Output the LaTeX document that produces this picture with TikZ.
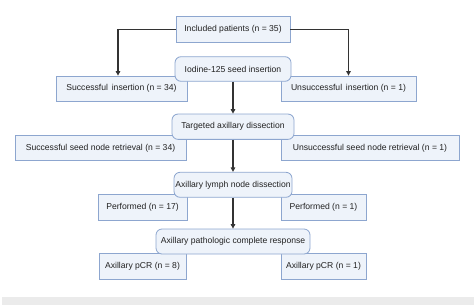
\documentclass[tikz,border=0pt]{standalone}
\usepackage{fontspec}
\setmainfont{Liberation Sans}
\usetikzlibrary{arrows.meta}
\definecolor{boxfill}{HTML}{EEF3FA}
\definecolor{boxline}{HTML}{8DA6CF}
\definecolor{txt}{HTML}{222222}
\definecolor{arr}{HTML}{333333}
\definecolor{strip}{HTML}{EBEBEB}
\tikzset{
  box/.style={draw=boxline, fill=boxfill, line width=0.8pt, inner sep=0pt,
    text=txt, font=\fontsize{8.6}{9}\selectfont, minimum height=25pt},
  rbox/.style={box, rounded corners=6pt},
  arrowline/.style={draw=arr, line width=1.1pt, -{Triangle[length=4.5pt,width=4.5pt]}}
}
\begin{document}
\begin{tikzpicture}[x=1pt,y=-1pt]
\useasboundingbox (0,0) rectangle (474,305);
\fill[strip] (2,297) rectangle (474,305);
% rectangular boxes
\node[box, minimum width=114pt, minimum height=25.5pt] (inc) at (233,29.5) {Included patients (n = 35)};
\node[box, minimum width=131pt] (sins) at (121.5,88.5) {Successful\, insertion (n = 34)};
\node[box, minimum width=135pt] (uins) at (348.5,88.5) {Unsuccessful\, insertion (n = 1)};
\node[box, minimum width=171pt, minimum height=25.7pt] (sret) at (100.5,147.8) {Successful seed node retrieval (n = 34)};
\node[box, minimum width=178pt, minimum height=25.7pt] (uret) at (370,147.8) {Unsuccessful seed node retrieval (n = 1)};
\node[box, minimum width=89pt, minimum height=26pt] (p17) at (142.5,207) {Performed (n = 17)};
\node[box, minimum width=85pt, minimum height=26pt] (p1) at (323.5,207) {Performed (n = 1)};
\node[box, minimum width=87pt, minimum height=26pt] (c8) at (142.5,266) {Axillary pCR (n = 8)};
\node[box, minimum width=85pt, minimum height=26pt] (c1) at (323.5,266) {Axillary pCR (n = 1)};
% rounded boxes
\node[rbox, minimum width=116pt, minimum height=24.6pt] (iod) at (233,69) {Iodine-125 seed insertion};
\node[rbox, minimum width=122pt, minimum height=25.3pt] (tad) at (233,126.7) {Targeted axillary dissection};
\node[rbox, minimum width=118pt] (alnd) at (233,184.8) {Axillary lymph node dissection};
\node[rbox, minimum width=154pt] (apcr) at (233,241.5) {Axillary pathologic complete response};
% arrows
\draw[arrowline] (inc.west) -| ([xshift=-3.5pt]sins.north);
\draw[arrowline] (inc.east) -| (uins.north);
\draw[arrowline] (iod.south) -- (tad.north);
\draw[arrowline] (tad.south) -- (alnd.north);
\draw[arrowline] (alnd.south) -- (apcr.north);
\end{tikzpicture}
\end{document}
